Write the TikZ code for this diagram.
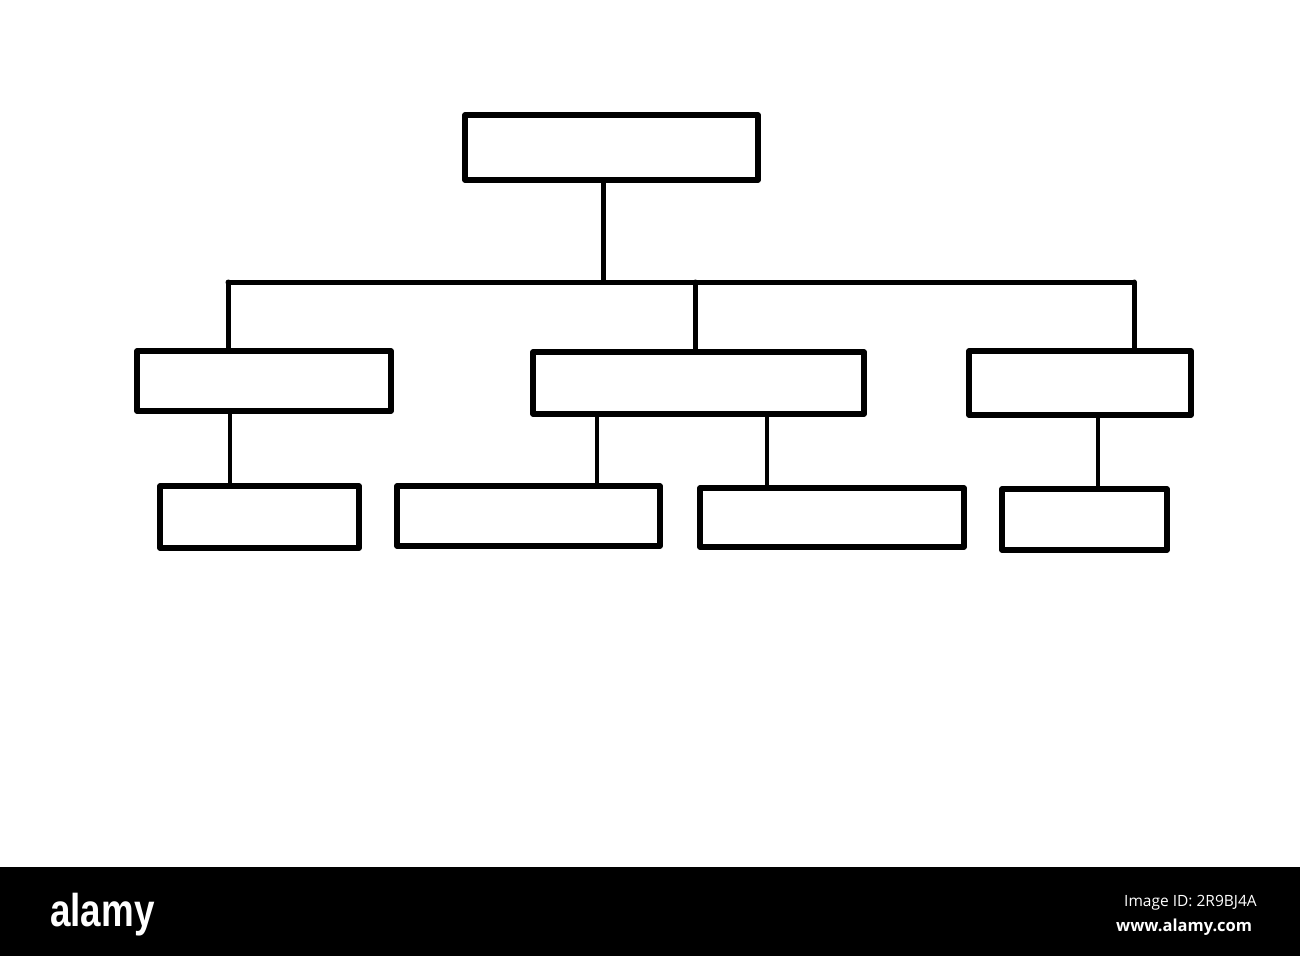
\documentclass[tikz,border=0pt]{standalone}
\usepackage{fontspec}
\setmainfont{Open Sans}
\newfontfamily\logofont{Liberation Sans}
\begin{document}
\begin{tikzpicture}[x=1pt,y=-1pt,
  box/.style={draw=black,line width=5.5pt,line join=round,line cap=round,fill=white,inner sep=0pt},
  link/.style={draw=black,line width=5pt,line cap=round}]
\useasboundingbox (0,0) rectangle (1300,956);
\fill[white] (0,0) rectangle (1300,867);
\fill[black] (0,867) rectangle (1300,956);
% boxes
\node[box,minimum width=293pt,minimum height=65pt] (top) at (611.5,147.5) {};
\node[box,minimum width=254pt,minimum height=60pt] (a) at (264,381) {};
\node[box,minimum width=331pt,minimum height=62pt] (b) at (698.5,383) {};
\node[box,minimum width=222pt,minimum height=64pt] (c) at (1080,383) {};
\node[box,minimum width=199pt,minimum height=62pt] (a1) at (259.5,517) {};
\node[box,minimum width=263pt,minimum height=60pt] (b1) at (528.5,516) {};
\node[box,minimum width=264pt,minimum height=59pt] (b2) at (832,517.5) {};
\node[box,minimum width=165pt,minimum height=61pt] (c1) at (1084.5,519.5) {};
% bus
\coordinate (bl) at (228,282);
\coordinate (bm) at (603,282);
\coordinate (bc) at (695,282);
\coordinate (br) at (1134,282);
\draw[link] (bl) -- (br);
\draw[link] (top.south -| bm) -- (bm);
\draw[link] (bl) -- (a.north -| bl);
\draw[link] (bc) -- (b.north -| bc);
\draw[link] (br) -- (c.north -| br);
% lower links
\draw[link,line width=4.5pt] (a.south -| 230,0) -- (a1.north -| 230,0);
\draw[link,line width=4.5pt] (b.south -| 597,0) -- (b1.north -| 597,0);
\draw[link,line width=4.5pt] (b.south -| 767,0) -- (b2.north -| 767,0);
\draw[link,line width=4.5pt] (c.south -| 1098,0) -- (c1.north -| 1098,0);
% banner
\node[anchor=base west,inner sep=0pt,text=white,font=\logofont\bfseries\fontsize{46}{46}\selectfont,xscale=0.8] (logo) at (50,926) {alamy};
\node[anchor=base west,inner sep=0pt,text=white,font=\fontsize{15.5}{15.5}\selectfont] (imgid) at (1124,906) {Image ID: 2R9BJ4A};
\node[anchor=base west,inner sep=0pt,text=white,font=\bfseries\fontsize{16.5}{16.5}\selectfont] (www) at (1116,931) {www.alamy.com};
\end{tikzpicture}
\end{document}
